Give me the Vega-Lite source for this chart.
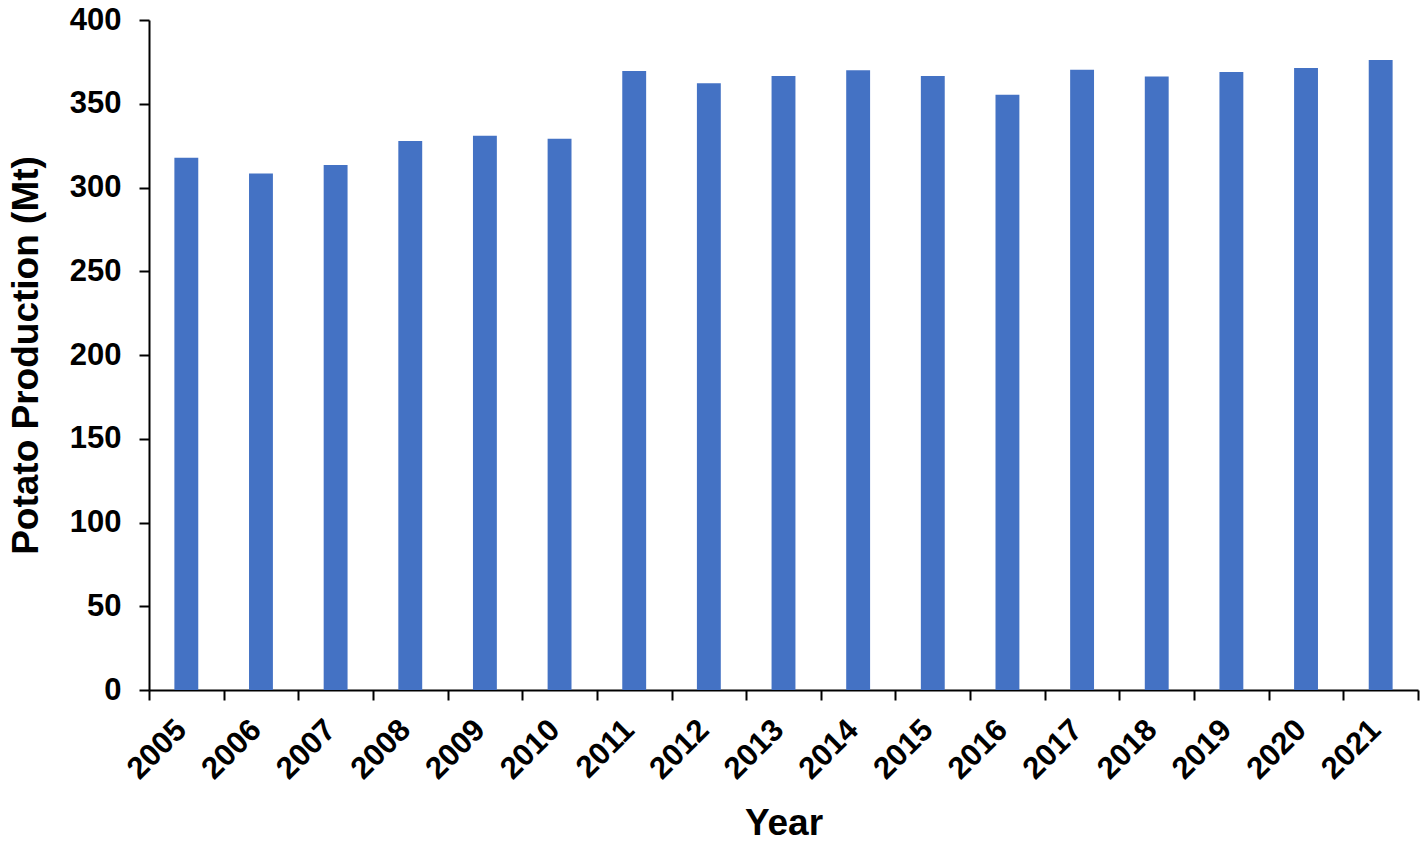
{
  "$schema": "https://vega.github.io/schema/vega-lite/v6.json",
  "autosize": {"type": "none"},
  "padding": {"left": 149, "top": 20, "right": 7, "bottom": 153},
  "width": 1269,
  "height": 670,
  "background": "white",
  "config": {
    "view": {"stroke": null},
    "font": "Liberation Sans",
    "axis": {
      "domainColor": "black",
      "domainWidth": 2,
      "tickColor": "black",
      "tickWidth": 2,
      "tickSize": 10,
      "grid": false,
      "labelFont": "Liberation Sans",
      "labelFontWeight": "bold",
      "labelFontSize": 31,
      "labelColor": "black",
      "titleFont": "Liberation Sans",
      "titleFontWeight": "bold",
      "titleFontSize": 37,
      "titleColor": "black"
    }
  },
  "data": {
    "values": [
      {"year": "2005", "production": 317.8},
      {"year": "2006", "production": 308.3},
      {"year": "2007", "production": 313.4},
      {"year": "2008", "production": 327.8},
      {"year": "2009", "production": 330.9},
      {"year": "2010", "production": 329.1},
      {"year": "2011", "production": 369.6},
      {"year": "2012", "production": 362.2},
      {"year": "2013", "production": 366.6},
      {"year": "2014", "production": 370.0},
      {"year": "2015", "production": 366.6},
      {"year": "2016", "production": 355.4},
      {"year": "2017", "production": 370.3},
      {"year": "2018", "production": 366.2},
      {"year": "2019", "production": 368.9},
      {"year": "2020", "production": 371.3},
      {"year": "2021", "production": 376.1}
    ]
  },
  "mark": {"type": "bar", "color": "#4472C4", "width": {"band": 0.32}},
  "encoding": {
    "x": {
      "field": "year",
      "type": "ordinal",
      "title": "Year",
      "scale": {"paddingInner": 0, "paddingOuter": 0},
      "axis": {
        "labelAngle": -45,
        "labelAlign": "right",
        "labelBaseline": "middle",
        "labelPadding": 25,
        "labelOffset": -5,
        "tickBand": "extent",
        "titlePadding": 21
      }
    },
    "y": {
      "field": "production",
      "type": "quantitative",
      "title": "Potato Production (Mt)",
      "scale": {"domain": [0, 400], "nice": false},
      "axis": {
        "values": [0, 50, 100, 150, 200, 250, 300, 350, 400],
        "labelPadding": 18,
        "titlePadding": 24
      }
    }
  }
}
